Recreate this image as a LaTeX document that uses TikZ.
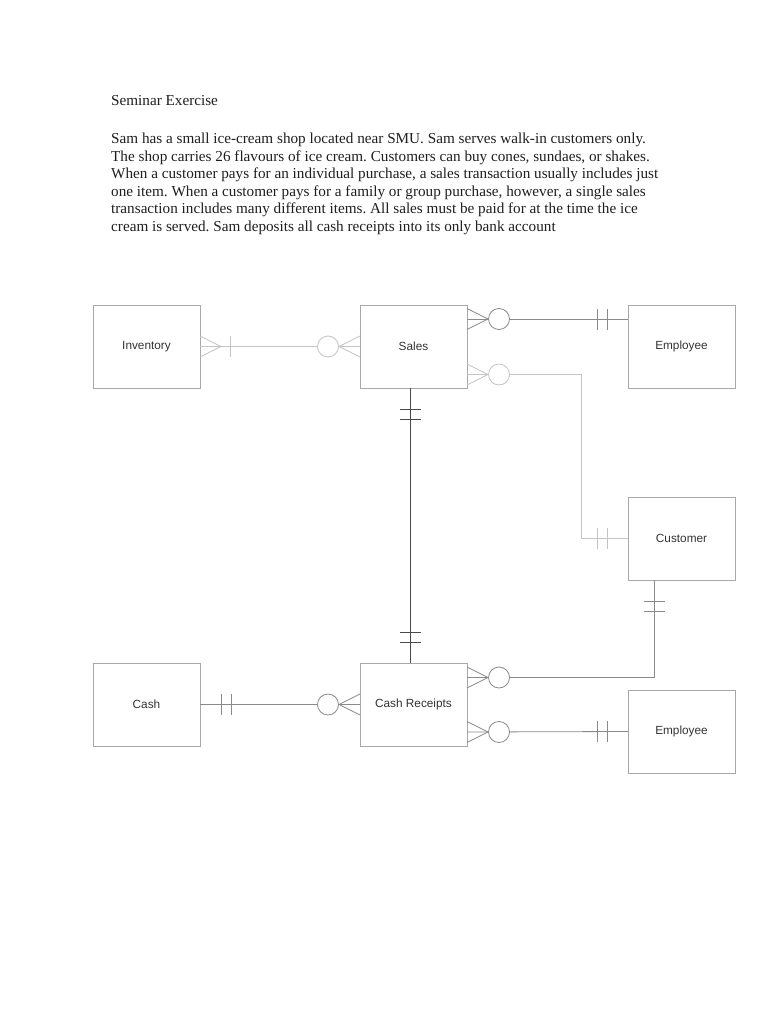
\documentclass[tikz,border=0pt]{standalone}
\usepackage{fontspec}
\setmainfont{Liberation Serif}
\newfontfamily\boxfont{Liberation Sans}
\usetikzlibrary{positioning}
\frenchspacing

\definecolor{boxgray}{HTML}{A8A8A8}
\definecolor{lightgray}{HTML}{C4C4C4}
\definecolor{midgray}{HTML}{8A8A8A}
\definecolor{darkgray}{HTML}{4A4A4A}

\begin{document}
\begin{tikzpicture}[x=1pt, y=1pt,
    entity/.style={draw=boxgray, line width=1pt, minimum width=107pt, minimum height=83pt, inner sep=0pt, outer sep=0pt, font=\boxfont\fontsize{11.8}{14}\selectfont, text=black!80},
    prose/.style={anchor=base west, inner sep=0pt, font=\fontsize{15.2}{18}\selectfont, text=black!88},
    lightline/.style={draw=lightgray, line width=0.8pt},
    midline/.style={draw=midgray, line width=0.8pt},
    darkline/.style={draw=darkgray, line width=1pt},
    zeromany/.pic={\draw (0,10.5) -- (21,0) -- (0,-10.5); \draw[fill=white] (32,0) circle (10.5);},
    onemany/.pic={\draw (0,10.5) -- (21,0) -- (0,-10.5); \draw (30,10.5) -- (30,-10.5);},
    oneone/.pic={\draw (21,10.5) -- (21,-10.5); \draw (31,10.5) -- (31,-10.5);}]
    \fill[white] (0,0) rectangle (768,-1024);
    \useasboundingbox (0,0) rectangle (768,-1024);

    % Text
    \node [prose] (title) at (111,-106) {Seminar Exercise};
    \foreach \line [count=\i] in {
        {Sam has a small ice-cream shop located near SMU. Sam serves walk-in customers only.},
        {The shop carries 26 flavours of ice cream. Customers can buy cones, sundaes, or shakes.},
        {When a customer pays for an individual purchase, a sales transaction usually includes just},
        {one item. When a customer pays for a family or group purchase, however, a single sales},
        {transaction includes many different items. All sales must be paid for at the time the ice},
        {cream is served. Sam deposits all cash receipts into its only bank account}}
        \node [prose] (line\i) at (111,{-143.5-17.6*(\i-1)}) {\line};

    % Entities {inventory, sales, employee, customer, cash, receipts}
    \node [entity] (inventory) at (146.5,-346.5)       {Inventory};
    \node [entity] (sales)     [right=160pt of inventory] {Sales};
    \node [entity] (employee1) [right=161pt of sales]     {Employee};
    \node [entity] (customer)  [below=109pt of employee1] {Customer};
    \node [entity] (employee2) [below=110pt of customer]  {Employee};
    \node [entity] (cash)      [below=275pt of inventory] {Cash};
    \node [entity] (receipts)  [right=160pt of cash]      {Cash Receipts};

    \coordinate (bend1) at ([xshift=-47pt]customer.west);
    \coordinate (bend2) at ([xshift=-27pt]customer.south);

    % Relationships of Sales
    \draw [lightline] (inventory.east) -- (sales.west);
    \pic [lightline] at (inventory.east) {onemany};
    \pic [lightline, rotate=180] at (sales.west) {zeromany};

    \draw [midline] ([yshift=27.5pt]sales.east) -- ([yshift=27.5pt]employee1.west);
    \pic [midline] at ([yshift=27.5pt]sales.east) {zeromany};
    \pic [midline, rotate=180] at ([yshift=27.5pt]employee1.west) {oneone};

    \draw [lightline] ([yshift=-28pt]sales.east) -| (bend1) -- (customer.west);
    \pic [lightline] at ([yshift=-28pt]sales.east) {zeromany};
    \pic [lightline, rotate=180] at (customer.west) {oneone};

    \draw [darkline] ([xshift=-3pt]sales.south) -- ([xshift=-3pt]receipts.north);
    \pic [darkline, rotate=-90] at ([xshift=-3pt]sales.south) {oneone};
    \pic [darkline, rotate=90] at ([xshift=-3pt]receipts.north) {oneone};

    % Relationships of Cash Receipts
    \draw [midline] (cash.east) -- (receipts.west);
    \pic [midline] at (cash.east) {oneone};
    \pic [midline, rotate=180] at (receipts.west) {zeromany};

    \draw [midline] ([yshift=27pt]receipts.east) -| (bend2);
    \pic [midline] at ([yshift=27pt]receipts.east) {zeromany};
    \pic [midline, rotate=-90] at (bend2) {oneone};

    \draw [midline] ([yshift=-27.5pt]receipts.east) -- (employee2.west);
    \pic [midline] at ([yshift=-27.5pt]receipts.east) {zeromany};
    \pic [midline, rotate=180] at (employee2.west) {oneone};
\end{tikzpicture}
\end{document}
